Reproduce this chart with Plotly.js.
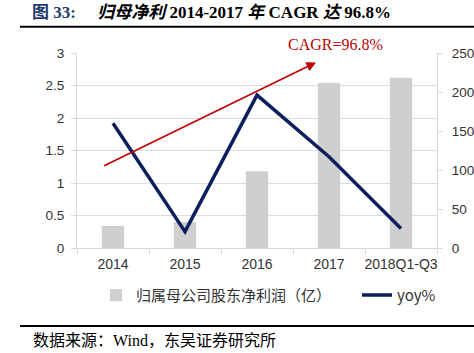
<!DOCTYPE html>
<html>
<head>
<meta charset="utf-8">
<script src="https://cdn.plot.ly/plotly-3.0.1.min.js"></script>
<style>html,body{margin:0;padding:0;background:#fff;}#chart{width:474px;height:353px;}</style>
</head>
<body>
<div id="chart"></div>
<script>
var categories = ["2014", "2015", "2016", "2017", "2018Q1-Q3"];
var netProfit = [0.34, 0.40, 1.18, 2.54, 2.62];
var yoyPct = [160, 21, 196, 117, 25];
var barName = "归属母公司股东净利润（亿）";
var lineName = "yoy%";
var leftTicks = [0, 0.5, 1, 1.5, 2, 2.5, 3];
var leftTickText = ["0", "0.5", "1", "1.5", "2", "2.5", "3"];
var rightTicks = [0, 50, 100, 150, 200, 250];

var L = 77, R = 437, T = 52.5, B = 248.5;
function px(x){ return (x - L) / (R - L); }
function py(y){ return (B - y) / (B - T); }

var traces = [
  {type: "bar", x: categories, y: netProfit, name: barName, marker: {color: "#cfcfcf"}, width: 0.31, yaxis: "y", legend: "legend"},
  {type: "scatter", mode: "lines", x: categories, y: yoyPct, name: lineName, line: {color: "#0b1f5e", width: 3.5}, yaxis: "y2", legend: "legend2"}
];

var tickFont = {family: "Liberation Sans, Arial, sans-serif", size: 13.5, color: "#333"};
var xTickFont = {family: "Liberation Sans, Arial, sans-serif", size: 14, color: "#333"};
var legendFont = {family: "Noto Sans CJK SC, sans-serif", size: 15, color: "#333"};
var layout = {
  width: 474, height: 353,
  margin: {l: L, r: 474 - R, t: T, b: 353 - B},
  paper_bgcolor: "#fff", plot_bgcolor: "#fff",
  showlegend: true,
  title: {
    text: '<span style="color:#1f3a6e">图 33:</span>     <i>归母净利</i> 2014-2017 <i>年</i> CAGR <i>达</i> 96.8%',
    font: {family: "Liberation Serif, Noto Sans CJK SC, serif", size: 17, color: "#000", weight: "bold"},
    x: 32/474, xanchor: "left", xref: "container",
    y: 1 - 12/353, yanchor: "middle", yref: "container"
  },
  xaxis: {
    type: "category", tickson: "boundaries", ticks: "outside", ticklen: 5, tickcolor: "#d9d9d9",
    showline: true, linecolor: "#d9d9d9", linewidth: 1, showgrid: false, tickangle: 0,
    tickfont: xTickFont, fixedrange: true, ticklabelstandoff: 3
  },
  yaxis: {
    range: [0, 3], tickvals: leftTicks, ticktext: leftTickText,
    showgrid: true, gridcolor: "#dcdcdc", gridwidth: 1,
    showline: true, linecolor: "#d9d9d9", ticks: "outside", ticklen: 5, tickcolor: "#d9d9d9",
    tickfont: tickFont, zeroline: false, ticklabelstandoff: 4
  },
  yaxis2: {
    overlaying: "y", side: "right", range: [0, 250], tickvals: rightTicks, ticksuffix: "%",
    showgrid: false, showline: true, linecolor: "#d9d9d9", ticks: "outside", ticklen: 5, tickcolor: "#d9d9d9",
    tickfont: tickFont, zeroline: false, ticklabelstandoff: 6
  },
  legend: {
    orientation: "h", x: px(96), xanchor: "left", y: py(296), yanchor: "middle",
    font: legendFont, itemwidth: 30, bgcolor: "rgba(0,0,0,0)"
  },
  legend2: {
    orientation: "h", x: px(357), xanchor: "left", y: py(296), yanchor: "middle",
    font: legendFont, itemwidth: 30, bgcolor: "rgba(0,0,0,0)"
  },
  shapes: [
    {type: "line", xref: "paper", yref: "paper", x0: px(20), x1: px(474), y0: py(26), y1: py(26), line: {color: "#000", width: 2}},
    {type: "line", xref: "paper", yref: "paper", x0: px(20), x1: px(474), y0: py(327), y1: py(327), line: {color: "#000", width: 2}}
  ],
  annotations: [
    {xref: "paper", yref: "paper", x: px(316), y: py(62), ax: 102.7 - 316, ay: 166 - 62, axref: "pixel", ayref: "pixel",
     showarrow: true, arrowhead: 2, arrowsize: 1.2, arrowwidth: 1.6, arrowcolor: "#c00000", text: ""},
    {xref: "paper", yref: "paper", x: px(335), y: py(44), xanchor: "center", yanchor: "middle", showarrow: false,
     text: "CAGR=96.8%", font: {family: "Liberation Serif, serif", size: 16, color: "#c00000"}},
    {xref: "paper", yref: "paper", x: px(31), y: py(341), xanchor: "left", yanchor: "middle", showarrow: false,
     text: "数据来源：Wind，东吴证券研究所", font: {family: "Liberation Serif, Noto Sans CJK SC, serif", size: 16, color: "#000"}}
  ]
};

Plotly.newPlot("chart", traces, layout, {displayModeBar: false, staticPlot: true});
</script>
</body>
</html>
